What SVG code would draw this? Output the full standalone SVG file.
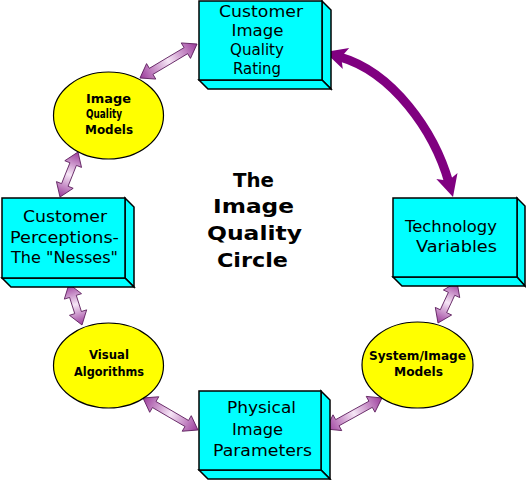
<svg xmlns="http://www.w3.org/2000/svg" width="526" height="480" viewBox="0 0 526 480">
<style>
.face{fill:#00FFFF;stroke:#000;stroke-width:1.5;stroke-linejoin:miter}
.ell{fill:#FFFF00;stroke:#000;stroke-width:1.2}
.bt{font-family:"DejaVu Sans",sans-serif;font-size:16.5px;fill:#000;text-anchor:middle}
.et{font-family:"DejaVu Sans",sans-serif;font-size:12px;font-weight:bold;fill:#000;text-anchor:middle}
.ct{font-family:"DejaVu Sans",sans-serif;font-size:19px;font-weight:bold;fill:#000;text-anchor:middle}
.fat{fill:url(#fatg);stroke:#5a1a5a;stroke-width:0.8;stroke-linejoin:miter}
</style>
<defs>
<linearGradient id="fatg" x1="0" y1="0" x2="1" y2="0">
<stop offset="0" stop-color="#9a3a9a"/>
<stop offset="0.5" stop-color="#f6e6f6"/>
<stop offset="1" stop-color="#9a3a9a"/>
</linearGradient>
</defs>
<rect width="526" height="480" fill="#fff"/>

<g id="connectors">
<path class="fat" transform="translate(140,78) rotate(-30.8)" d="M0,0 L13,-9 L13,-3.5 L53.4,-3.5 L53.4,-9 L66.4,0 L53.4,9 L53.4,3.5 L13,3.5 L13,9 Z"/>
<path class="fat" transform="translate(78,152) rotate(111.8)" d="M0,0 L13,-9 L13,-3.5 L35.5,-3.5 L35.5,-9 L48.5,0 L35.5,9 L35.5,3.5 L13,3.5 L13,9 Z"/>
<path class="fat" transform="translate(69,284) rotate(72.4)" d="M0,0 L13,-9 L13,-3.5 L30,-3.5 L30,-9 L43,0 L30,9 L30,3.5 L13,3.5 L13,9 Z"/>
<path class="fat" transform="translate(143,398) rotate(30.2)" d="M0,0 L13,-9 L13,-3.5 L50.6,-3.5 L50.6,-9 L63.6,0 L50.6,9 L50.6,3.5 L13,3.5 L13,9 Z"/>
<path class="fat" transform="translate(326,429) rotate(-29)" d="M0,0 L13,-9 L13,-3.5 L51,-3.5 L51,-9 L64,0 L51,9 L51,3.5 L13,3.5 L13,9 Z"/>
<path class="fat" transform="translate(438,323) rotate(-65.1)" d="M0,0 L13,-9 L13,-3.5 L32.2,-3.5 L32.2,-9 L45.2,0 L32.2,9 L32.2,3.5 L13,3.5 L13,9 Z"/>
<g id="main-arrow" fill="#800080">
<path d="M340,57 C392,72 434,130 449,183" fill="none" stroke="#800080" stroke-width="9"/>
<polygon points="325,52 342.8,68.9 341.2,57 349.2,47.9"/>
<polygon points="453,197 436.3,178.9 448.3,180.7 457.5,172.9"/>
</g>
</g>

<g id="node-rating">
<polygon class="face" points="322,1 331,10 331,89 322,80"/>
<polygon class="face" points="199,80 322,80 331,89 208,89"/>
<rect class="face" x="199" y="1" width="123" height="79"/>
<text class="bt" x="261" y="17" textLength="84" lengthAdjust="spacingAndGlyphs">Customer</text>
<text class="bt" x="257.5" y="36" textLength="52" lengthAdjust="spacingAndGlyphs">Image</text>
<text class="bt" x="257" y="55" textLength="54" lengthAdjust="spacingAndGlyphs">Quality</text>
<text class="bt" x="257" y="74" textLength="48" lengthAdjust="spacingAndGlyphs">Rating</text>
</g>

<g id="node-technology">
<polygon class="face" points="517,198 525,206 525,286 517,277"/>
<polygon class="face" points="393,277 517,277 525,286 402,286"/>
<rect class="face" x="393" y="198" width="124" height="79"/>
<text class="bt" x="451" y="232" textLength="92" lengthAdjust="spacingAndGlyphs">Technology</text>
<text class="bt" x="456.5" y="252" textLength="81" lengthAdjust="spacingAndGlyphs">Variables</text>
</g>

<g id="node-perceptions">
<polygon class="face" points="125,198 134,207 134,287 125,278"/>
<polygon class="face" points="2,278 125,278 134,287 11,287"/>
<rect class="face" x="2" y="198" width="123" height="80"/>
<text class="bt" x="65" y="222" textLength="84" lengthAdjust="spacingAndGlyphs">Customer</text>
<text class="bt" x="64.5" y="243" textLength="109" lengthAdjust="spacingAndGlyphs">Perceptions-</text>
<text class="bt" x="64.5" y="263" textLength="107" lengthAdjust="spacingAndGlyphs">The "Nesses"</text>
</g>

<g id="node-physical">
<polygon class="face" points="321,391 330,400 330,479 321,470"/>
<polygon class="face" points="199,470 321,470 330,479 208,479"/>
<rect class="face" x="199" y="391" width="122" height="79"/>
<text class="bt" x="261.5" y="413" textLength="69" lengthAdjust="spacingAndGlyphs">Physical</text>
<text class="bt" x="257.5" y="435" textLength="51" lengthAdjust="spacingAndGlyphs">Image</text>
<text class="bt" x="262.5" y="456" textLength="99" lengthAdjust="spacingAndGlyphs">Parameters</text>
</g>

<g id="node-iq-models">
<ellipse class="ell" cx="108.5" cy="115.5" rx="55" ry="43.5"/>
<text class="et" x="108.5" y="103" textLength="45" lengthAdjust="spacingAndGlyphs">Image</text>
<text class="et" x="104" y="118" font-size="10.5" textLength="36" lengthAdjust="spacingAndGlyphs">Quality</text>
<text class="et" x="109" y="134" textLength="48" lengthAdjust="spacingAndGlyphs">Models</text>
</g>

<g id="node-visual">
<ellipse class="ell" cx="108.5" cy="365.5" rx="55" ry="42.5"/>
<text class="et" x="109" y="359" textLength="40" lengthAdjust="spacingAndGlyphs">Visual</text>
<text class="et" x="109" y="376" textLength="70" lengthAdjust="spacingAndGlyphs">Algorithms</text>
</g>

<g id="node-system">
<ellipse class="ell" cx="417.5" cy="365" rx="55.5" ry="43"/>
<text class="et" x="417.5" y="360" textLength="97" lengthAdjust="spacingAndGlyphs">System/Image</text>
<text class="et" x="418.5" y="376" textLength="49" lengthAdjust="spacingAndGlyphs">Models</text>
</g>

<g id="title">
<text class="ct" x="253.5" y="187" textLength="41" lengthAdjust="spacingAndGlyphs">The</text>
<text class="ct" x="253.5" y="213" textLength="81" lengthAdjust="spacingAndGlyphs">Image</text>
<text class="ct" x="254.5" y="240" textLength="95" lengthAdjust="spacingAndGlyphs">Quality</text>
<text class="ct" x="252.5" y="267" textLength="71" lengthAdjust="spacingAndGlyphs">Circle</text>
</g>
</svg>
